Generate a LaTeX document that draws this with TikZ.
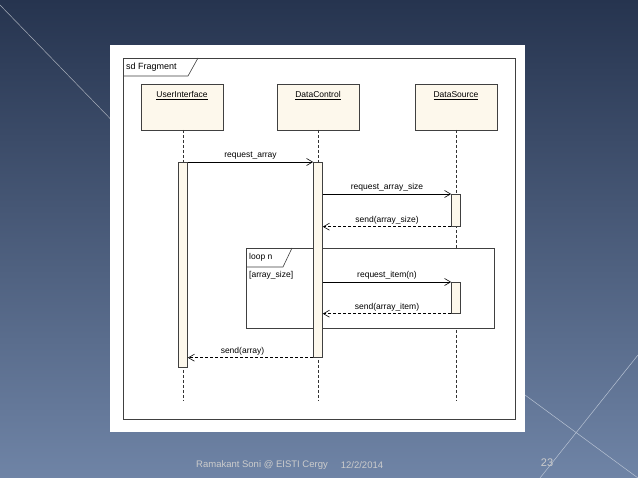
\documentclass[tikz,border=0pt]{standalone}
\usepackage{fontspec}
\setmainfont{Liberation Sans}
\usetikzlibrary{arrows.meta}
\definecolor{cream}{HTML}{FDF8EC}
\definecolor{bgtop}{HTML}{26344F}
\definecolor{bgbot}{HTML}{6F84A6}
\begin{document}
\begin{tikzpicture}[x=1pt,y=-1pt,
  life/.style={draw=black!75,fill=cream,line width=0.8pt},
  act/.style={draw=black!75,fill=cream,line width=0.7pt},
  ll/.style={densely dashed,line width=0.6pt,black!80},
  msg/.style={line width=0.6pt,-{Straight Barb[length=6pt,width=7pt]}},
  ret/.style={msg,densely dashed},
  lbl/.style={font=\fontsize{8.5}{9}\selectfont,above=0pt,inner sep=2pt},
  foot/.style={font=\fontsize{9.5}{10}\selectfont,text=white!80!black}]
\useasboundingbox (0,0) rectangle (638,478);
\shade[top color=bgtop,bottom color=bgbot] (0,0) rectangle (638,478);
\draw[white!60!bgtop,line width=0.5pt] (0,5) -- (160,170);
\draw[white!50!bgbot,line width=0.5pt] (638,355) -- (540,478);
\draw[white!50!bgbot,line width=0.5pt] (525,395) -- (638,478);
\node[fill=white,minimum width=415,minimum height=387,inner sep=0,anchor=north west] (panel) at (110,45) {};
% outer frame
\draw[black!75,line width=0.8pt] (123,58) rectangle (515,419);
\draw[black!75,line width=0.6pt] (123,76) -- (188,76) -- (198,58);
\node[anchor=west,font=\fontsize{9}{10}\selectfont,inner sep=0] (sd) at (126,67) {sd Fragment};
% lifelines
\node[life,minimum width=82,minimum height=46,anchor=north west] (ui) at (141,84) {};
\node[life,minimum width=82,minimum height=46,anchor=north west] (dc) at (277,84) {};
\node[life,minimum width=82,minimum height=46,anchor=north west] (ds) at (415,84) {};
\node[font=\fontsize{8.5}{9}\selectfont,anchor=north] (uit) at (182,88) {\underline{UserInterface}};
\node[font=\fontsize{8.5}{9}\selectfont,anchor=north] (dct) at (318,88) {\underline{DataControl}};
\node[font=\fontsize{8.5}{9}\selectfont,anchor=north] (dst) at (456,88) {\underline{DataSource}};
\coordinate (ue) at (183,401); \coordinate (de) at (318,401); \coordinate (se) at (456,401);
\draw[ll] (183,130) -- (ue);
\draw[ll] (318,130) -- (de);
\draw[ll] (456,130) -- (se);
% loop frame
\node[draw=black!75,line width=0.8pt,fill=white,minimum width=248,minimum height=80,anchor=north west,inner sep=0] (loop) at (246,248) {};
\draw[ll] (318,248) -- (318,328);
\draw[black!75,line width=0.6pt] (246,267) -- (283,267) -- (292,248);
\node[anchor=west,font=\fontsize{8.5}{9}\selectfont,inner sep=0] (lt) at (249,257) {loop n};
\node[anchor=west,font=\fontsize{8.5}{9}\selectfont,inner sep=0] (gd) at (249,275) {[array\_size]};
% activations
\node[act,minimum width=9,minimum height=205,inner sep=0,anchor=north] (a1) at (183,162) {};
\node[act,minimum width=9,minimum height=195,inner sep=0,anchor=north] (a2) at (318,162) {};
\node[act,minimum width=9,minimum height=32,inner sep=0,anchor=north] (a3) at (456,194) {};
\node[act,minimum width=9,minimum height=31,inner sep=0,anchor=north] (a4) at (456,282) {};
% messages
\draw[msg] (a1.north east) -- node[lbl]{request\_array} (a2.north west);
\draw[msg] (a2.east|-a3.north) -- node[lbl]{request\_array\_size} (a3.north west);
\draw[ret] (a3.south west) -- node[lbl]{send(array\_size)} (a2.east|-a3.south);
\draw[msg] (a2.east|-a4.north) -- node[lbl]{request\_item(n)} (a4.north west);
\draw[ret] (a4.south west) -- node[lbl]{send(array\_item)} (a2.east|-a4.south);
\draw[ret] (a2.south west) -- node[lbl,xshift=-8]{send(array)} (a1.east|-a2.south);
% footer
\node[foot] (f1) at (262,465) {Ramakant Soni @ EISTI Cergy};
\node[foot] (f2) at (362,465) {12/2/2014};
\node[foot,font=\fontsize{11}{12}\selectfont] (f3) at (547,463) {23};
\end{tikzpicture}
\end{document}
